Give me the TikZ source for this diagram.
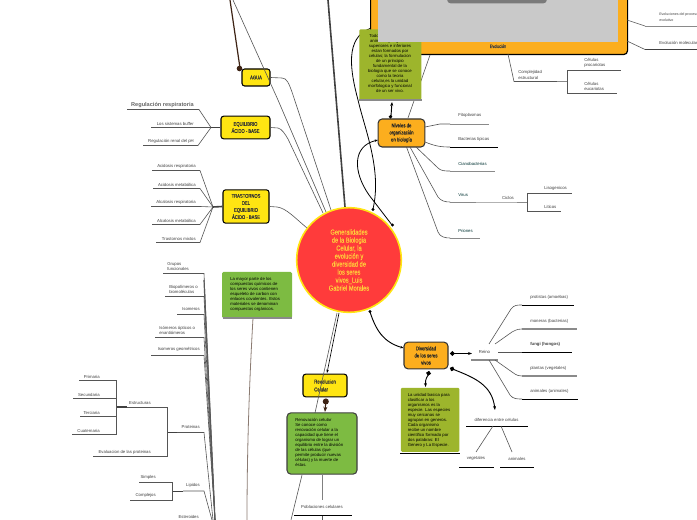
\documentclass[tikz,border=0pt]{standalone}
\usepackage{fontspec}
\setmainfont{Liberation Sans}
\newfontfamily\dispf[FakeStretch=0.78,FakeBold=0.25]{Liberation Sans}
\usetikzlibrary{arrows.meta,calc}
\definecolor{yel}{HTML}{FFE512}
\definecolor{org}{HTML}{FCAE1E}
\definecolor{grn}{HTML}{7DBB42}
\definecolor{olv}{HTML}{9DB52C}
\definecolor{redc}{HTML}{FF3B3B}
\definecolor{lin}{HTML}{555555}
\definecolor{bar}{HTML}{8A8A8A}
\definecolor{brn}{HTML}{3D2314}
\definecolor{ctxt}{HTML}{FFCF3A}
\tikzset{
 x=0.75pt,y=-0.75pt,
 lab/.style={font=\fontsize{3.2}{4.2}\selectfont,text=black!75,align=left,inner sep=0pt},
 conn/.style={draw=lin,line width=0.45pt},
 under/.style={draw=bar,line width=0.7pt},
 underk/.style={draw=black,line width=0.7pt},
 ybox/.style={draw=black,line width=0.8pt,fill=yel,rounded corners=2pt,inner sep=0pt,align=center,font=\dispf\fontsize{4}{5.3}\selectfont,text=black!80},
 obox/.style={draw=black!80,line width=0.8pt,fill=org,rounded corners=3pt,inner sep=0pt,align=center,font=\dispf\fontsize{4.1}{5.3}\selectfont,text=black!85},
 nota/.style={inner sep=0pt,align=left,font=\fontsize{3.2}{3.75}\selectfont,text=black},
 dotarrow/.style={draw=black,line width=0.7pt,{Circle[length=3.5pt]}-{Stealth[length=3pt]}},
}
\begin{document}
\begin{tikzpicture}
\useasboundingbox (0,0) rectangle (697,520);
\fill[white] (0,0) rectangle (697,520);

% ---- free ends
\coordinate (top1) at (233,0);
\coordinate (top2) at (230,0);
\coordinate (top3) at (328,0);

% ---- nodes on the upper left
\node[ybox,minimum width=21pt,minimum height=12.75pt] (agua) at (256,77.5) {AGUA};
\node[ybox,minimum width=36.75pt,minimum height=17pt] (eq) at (245.5,127.5) {EQUILIBRIO\\ÁCIDO - BASE};
\node[ybox,minimum width=34.5pt,minimum height=25pt] (tr) at (246,206.5) {TRASTORNOS\\DEL\\EQUILIBRIO\\ÁCIDO - BASE};

% ---- long connectors from centre
\draw[conn] (top1) -- (278,100) -- (326,212);
\draw[conn] (agua.east) -- (282,78) .. controls (287,78) and (289,84) .. (292,92) -- (331,210);
\draw[conn] (eq.east) -- (278,128) .. controls (282,129) and (285,134) .. (288,139) -- (323,213);
\draw[conn] (tr.east) -- (277,207) .. controls (286,208) and (295,218) .. (307,228);
\draw[draw=brn,line width=0.9pt] (top2) -- (240,68);
\fill[brn] (239.5,68.5) circle (2.8);
\draw[draw=black!75,line width=1.2pt] (top3) -- (345,207);

% ---- lower long lines
\node[ybox,minimum width=33pt,minimum height=17pt,font=\dispf\fontsize{4.2}{5.9}\selectfont,align=left] (rev) at (325,385.5) {Revolucion\\Celular};
\draw[conn] (337,313) -- (315,413);
\draw[conn] (302,475) -- (291,520);
\draw[draw=black,line width=0.45pt,-{Stealth[length=2.5pt]}] (339,313) -- (327,373);

% ---- centre
\node[circle,draw=yel,line width=1.2pt,fill=redc,minimum size=78.5pt,inner sep=0pt,align=center,
      text=ctxt,font=\dispf\fontsize{5.5}{6}\selectfont] (centre) at (349,260)
  {Generalidades\\de la Biologia\\Celular, la\\evolución y\\diversidad de\\los seres\\vivos\_Luis\\Gabriel Morales};

% ---- left branches
\node[lab,anchor=south east,font=\fontsize{4.2}{5}\selectfont\bfseries,text=black!60] (r1) at (194,107.5) {Regulación respiratoria};
\node[lab,anchor=south east] (r2) at (194,125.5) {Los sistemas buffer};
\node[lab,anchor=south east] (r3) at (194,143.5) {Regulación renal del pH};
\coordinate (ej) at (211,127.5);
\draw[draw=black!75,line width=0.9pt] (ej) -- (eq.west);
\draw[conn] (127,109.5) -- (199,109.5) -- (ej);
\draw[conn] (151,127.5) -- (199,127.5) -- (ej);
\draw[conn] (143,145.5) -- (198,145.5) -- (ej);

\node[lab,anchor=south east] (t1) at (196,168.5) {Acidosis respiratoria};
\node[lab,anchor=south east] (t2) at (196,186.5) {Acidosis metabólica};
\node[lab,anchor=south east] (t3) at (196,204.5) {Alcalosis respiratoria};
\node[lab,anchor=south east] (t4) at (196,222.5) {Alcalosis metabólica};
\node[lab,anchor=south east] (t5) at (196,240.5) {Trastornos mixtos};
\coordinate (tj) at (213,207);
\draw[draw=black!75,line width=1.2pt] (tj) -- (tr.west);
\draw[conn] (152,170.5) -- (200,170.5) -- (tj);
\draw[conn] (153,188.5) -- (200,188.5) -- (tj);
\draw[conn] (151,206.5) -- (200,206.5) -- (tj);
\draw[conn] (152,224.5) -- (200,224.5) -- (tj);
\draw[conn] (156,242.5) -- (200,242.5) -- (tj);

% ---- organic chemistry branch
\node[lab,anchor=south west] (g1) at (167,271) {Grupos\\funcionales};
\node[lab,anchor=south west] (g2) at (169,294) {Biopolímeros o\\biomoléculas};
\node[lab,anchor=south east] (g3) at (200,310.5) {Isomeros};
\node[lab,anchor=south west] (g4) at (159,335) {Isómeros ópticos o\\enantiómeros};
\node[lab,anchor=south east] (g5) at (200,351.5) {Isomeros geométricos};
\node[lab,anchor=south east] (pt) at (200,429) {Proteinas};
\node[lab,anchor=south east] (lp) at (200,488) {Lipidos};
\node[lab,anchor=south east] (es) at (199,519.3) {Esteroides};
\coordinate (bj) at (215,520);
\draw[conn] (163,273.5) -- (204,273.5) -- (bj);
\draw[conn] (165,296.5) -- (204,296.5) -- (bj);
\draw[conn] (177,314.5) -- (204,314.5) -- (bj);
\draw[conn] (155,337.5) -- (204,337.5) -- (bj);
\draw[conn] (151,355.5) -- (204,355.5) -- (bj);
\draw[draw=black!65,line width=0.9pt] (204,280) -- (bj);
\draw[conn] (177,432.5) -- (204,432.5) -- (213,520);
\draw[conn] (183,491) -- (204,491) -- (212,520);

\coordinate (pj) at (167,432.5);
\draw[draw=black!75,line width=0.8pt] (pj) -- (177,432.5);
\draw[conn] (pj) -- (167,407) -- (127,407);
\draw[conn] (pj) -- (167,456.5) -- (93,456.5);
\node[lab,anchor=south east] (st) at (151,405) {Estructuras};
\node[lab,anchor=south east] (ev) at (151,454.5) {Evaluacion de las proteinas};
\coordinate (sj) at (116,407);
\draw[draw=black!75,line width=1pt] (sj) -- (127,407);
\draw[conn] (sj) -- (116,380.5) -- (79,380.5);
\draw[conn] (sj) -- (116,398.5) -- (73,398.5);
\draw[conn] (sj) -- (116,416.5) -- (80,416.5);
\draw[conn] (sj) -- (116,434.5) -- (72,434.5);
\node[lab,anchor=south east] (s1) at (100,378.5) {Primaria};
\node[lab,anchor=south east] (s2) at (100,396.5) {Secundaria};
\node[lab,anchor=south east] (s3) at (100,414.5) {Terciaria};
\node[lab,anchor=south east] (s4) at (100,432.5) {Cuaternaria};

\coordinate (lj) at (172,491);
\draw[draw=black!75,line width=0.7pt] (lj) -- (183,491);
\draw[conn] (lj) -- (172,482) -- (139,482);
\draw[conn] (lj) -- (172,500) -- (130,500);
\node[lab,anchor=south east] (l1) at (156,480) {Simples};
\node[lab,anchor=south east] (l2) at (156,498) {Complejos};

% ---- green note left
\draw[draw=brn!60!white,line width=0.6pt] (253,318) .. controls (250,370) and (247,440) .. (247,520);
\node[fill=grn,rounded corners=1pt,minimum width=52.5pt,minimum height=34.5pt,inner sep=0pt] (gn) at (257,295) {};
\draw[draw=bar,line width=1pt] (222.5,318) -- (292,318);
\node[nota,anchor=north west] (gnt) at (230,277.5) {La mayor parte de los\\compuestos químicos de\\los seres vivos contienen\\esqueleto de carbon con\\enlaces covalentes. Estos\\materiales se denominan\\compuestos orgánicos.};

% ---- renovacion
\node[draw=black!75,line width=0.8pt,fill=grn,rounded corners=3pt,minimum width=52.5pt,minimum height=46pt,inner sep=0pt] (rn) at (322,443.5) {};
\node[nota,anchor=north west] (rnt) at (295,418.5) {Renovación celular\\Se conoce como\\renovación celular a la\\capacidad que tiene el\\organismo de lograr un\\equilibrio entre la división\\de las células (que\\permite producir nuevas\\células) y la muerte de\\éstas.};
\draw[draw=brn,line width=0.8pt,{Circle[length=4.5pt]}-{Stealth[length=4pt]}] (326,398.5) -- (325,412);
\draw[draw=black!50,line width=0.45pt] (322.5,474.5) -- (322.5,500);
\node[lab,anchor=south] (pob) at (322,509) {Poblaciones celulares};
\draw[underk] (294,515.5) -- (352,515.5);
\draw[conn] (322.5,516) -- (322.5,520);

% ---- curve behind the olive note, and the curve into niveles
\draw[draw=black,line width=0.6pt] (373,209) .. controls (382,170) and (365,130) .. (358,100) .. controls (350,70) and (345,38) .. (370,28.5);

% ---- evolucion box
\node[draw=black,line width=0.9pt,fill=org,rounded corners=3pt,minimum width=192.75pt,minimum height=55.5pt,inner sep=0pt,anchor=north west] (evb) at (370,-20) {};
\node[anchor=base,font=\dispf\fontsize{3.6}{4}\selectfont,text=black!75,inner sep=0pt] (evt) at (498,48) {Evolución};

% right top branches
\coordinate (b1) at (645,26);
\coordinate (b2) at (645,49.5);
\draw[conn] (627,20) -- (645,26);
\draw[draw=bar,line width=0.7pt] (645,26) -- (697,26);
\draw[conn] (627,41) -- (645,49.5);
\draw[draw=black!75,line width=0.7pt] (645,49.5) -- (697,49.5);
\node[lab,anchor=south west,font=\fontsize{2.7}{4.2}\selectfont] (ev1) at (659,21.5) {Evoluciones del proceso\\evolutivo};
\node[lab,anchor=south west] (ev2) at (659,44.5) {Evolución molecular};

\coordinate (cx) at (514,81.5);
\draw[conn] (508,54) -- (514,81.5) -- (558,81.5);
\draw[draw=bar,line width=0.7pt] (557,81.5) -- (567,81.5);
\node[lab,anchor=south west] (cxt) at (518,79.5) {Complejidad\\estructural};
\draw[conn] (567.5,81.5) -- (567.5,70) -- (621,70);
\draw[conn] (567.5,81.5) -- (567.5,93) -- (617,93);
\node[lab,anchor=south west] (cp) at (584,68) {Células\\procariotas};
\node[lab,anchor=south west] (ce) at (584,91) {Células\\eucariotas};

% ---- niveles
\node[obox,minimum width=35pt,minimum height=21pt] (niv) at (401.5,133) {Niveles de\\organización\\en biología};
\draw[conn] (430,55) -- (408,118);
\node[fill=olv,rounded corners=1pt,minimum width=46.5pt,minimum height=53pt,inner sep=0pt,anchor=north west] (ol) at (359,29) {};
\draw[draw=bar,line width=1pt] (359,100) -- (421.5,100);
\node[nota,anchor=north,align=center] (olt) at (390,34) {Todos los organismos\\animales y vegetales\\superiores e inferiores\\estan formados por\\celulas; la formulacion\\de un principio\\fundamental de la\\biologia que se conoce\\como la teoria\\celular,es la unidad\\morfologica y funcional\\de un ser vivo.};
% image panel
\fill[black!21] (378,0) rectangle (618,42);
\fill[black!52,rounded corners=3pt] (447,-6) rectangle (547,3.5);
\draw[draw=black,line width=0.7pt,-{Stealth[length=3pt]}] (391,116) -- (392,102);
\fill[black] (390.5,116.8) circle (1.9);
\draw[draw=black,line width=0.6pt,-{Stealth[length=2.5pt]}] (392,225) -- (369,195) .. controls (353,172) and (352,146) .. (378,140);
\fill[black] (373,209.5) circle (1.7) (392.5,225) circle (1.7);

\draw[conn] (425,127) -- (440,124) -- (450,124);
\draw[draw=bar,line width=0.7pt] (450,124) -- (489,124);
\draw[conn] (425,142) .. controls (435,146) and (440,147) .. (450,147);
\draw[underk] (450,147) -- (498,147);
\draw[conn] (416,147) -- (438,168) .. controls (441,171) and (445,171) .. (450,171);
\draw[draw=bar,line width=0.7pt] (450,171) -- (495,171);
\draw[conn] (410,147) -- (438,197) .. controls (441,201) and (445,202) .. (450,202);
\draw[draw=bar,line width=0.7pt] (450,202) -- (476,202);
\draw[conn] (406.5,147) -- (438,232) .. controls (440,237) and (445,238) .. (450,238);
\draw[draw=bar,line width=0.7pt] (450,238) -- (480,238);
\node[lab,anchor=south west] (n1) at (458,118) {Fitoplasmas};
\node[lab,anchor=south west] (n2) at (458,142) {Bacterias tipicas};
\node[lab,anchor=south west,text=black!60!teal] (n3) at (458,165.5) {Cianobacterias};
\node[lab,anchor=south west,text=black!60!teal] (n4) at (458,196.5) {Virus};
\node[lab,anchor=south west,text=black!60!teal] (n5) at (458,232.5) {Priones};
\draw[draw=black!30,line width=0.7pt] (476,202) -- (517,202);
\node[lab,anchor=south] (ci) at (508,199.5) {Ciclos};
\draw[draw=bar,line width=0.7pt] (517,202) -- (527.5,202);
\draw[conn] (527.5,202) -- (527.5,193) -- (572,193);
\draw[conn] (527.5,202) -- (527.5,211) -- (561,211);
\node[lab,anchor=south west] (c1) at (544,191) {Lisogenicos};
\node[lab,anchor=south west] (c2) at (544,209) {Liticos};

% ---- diversidad
\node[obox,minimum width=33pt,minimum height=20pt] (div) at (426,355.5) {Diversidad\\de los seres\\vivos};
\draw[draw=black,line width=0.7pt,-{Stealth[length=2.5pt]}] (370,312) .. controls (376,330) and (383,342) .. (403.5,348);
\fill[black] (370,311.5) circle (1.7);
\draw[dotarrow] (450,353.5) -- (472,353.5);
\draw[dotarrow] (450,368) .. controls (475,378) and (492,385) .. (495,410);
\draw[dotarrow] (429,371) .. controls (428,376) and (425,378) .. (425.7,387);
\node[fill=olv,rounded corners=1pt,minimum width=44pt,minimum height=48pt,inner sep=0pt,anchor=north west] (ol2) at (400.5,387.5) {};
\draw[underk] (400,453.5) -- (460,453.5);
\node[nota,anchor=north west] (ol2t) at (407.5,393.5) {La unidad basica para\\clasificar a los\\organismos es la\\especie. Las especies\\muy cercanas se\\agrupan en generos.\\Cada organismo\\recibe un nombre\\cientifico formado por\\dos palabras: El\\Genero y La Especie.};

\node[lab,anchor=base] (re) at (484.5,354) {Reino};
\draw[draw=bar,line width=1pt] (471,360) -- (498,360);
\draw[conn] (489,344) -- (511,309) .. controls (514,305) and (517,305) .. (522,305);
\draw[conn] (495,344) -- (512,332) .. controls (517,329) and (520,329) .. (522,329);
\draw[conn] (498,352) -- (522,352);
\draw[conn] (495,360) -- (512,372) .. controls (517,376) and (520,376) .. (522,376);
\draw[conn] (489,360) -- (510,395) .. controls (513,399) and (517,399) .. (522,399);
\draw[underk] (522,305) -- (574,305);
\draw[draw=bar,line width=0.9pt] (522,329) -- (577,329);
\draw[underk] (522,352) -- (572,352);
\draw[draw=bar,line width=0.9pt] (522,376) -- (577,376);
\draw[underk] (522,399) -- (578,399);
\node[lab,anchor=south west] (k1) at (530,300) {protistas (amoebas)};
\node[lab,anchor=south west] (k2) at (530,324) {moneras (bacterias)};
\node[lab,anchor=south west,font=\fontsize{3.2}{4.2}\selectfont\bfseries] (k3) at (530,347) {fungi (hongos)};
\node[lab,anchor=south west] (k4) at (530,371) {plantas (vegetales)};
\node[lab,anchor=south west] (k5) at (530,394) {animales (animales)};

\node[lab,anchor=south] (df) at (496.5,422) {diferencia entre celulas};
\draw[underk] (466,426) -- (528,426);
\draw[conn] (493,426) -- (476,452);
\draw[conn] (501,426) -- (512,452);
\node[lab,anchor=south] (v1) at (476,461) {vegetales};
\node[lab,anchor=south] (v2) at (517,461) {animales};
\draw[underk] (459,467) -- (494,467);
\draw[underk] (500,467) -- (534,467);
\end{tikzpicture}
\end{document}
